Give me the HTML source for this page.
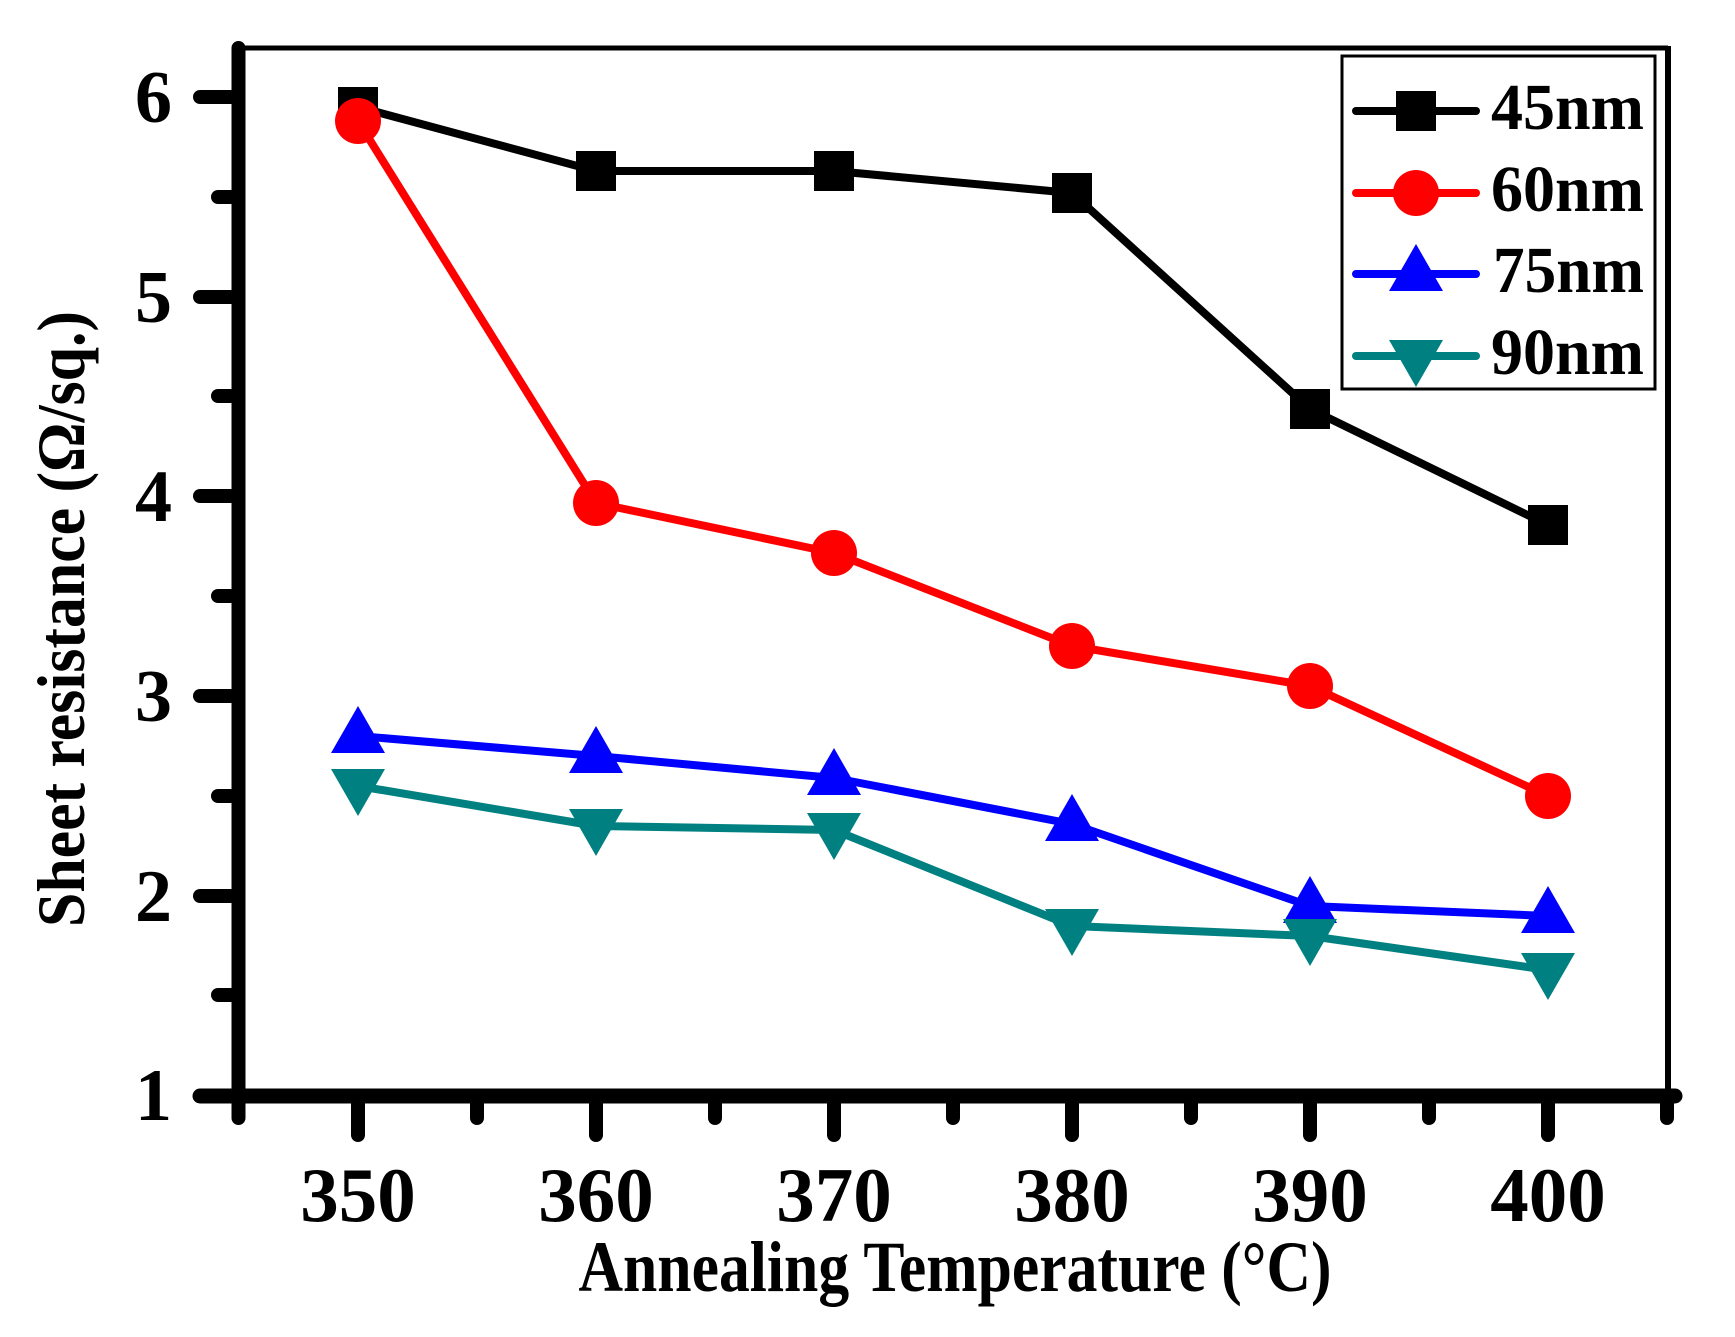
<!DOCTYPE html>
<html><head><style>body{margin:0;background:#fff}svg{display:block}text{font-family:"Liberation Serif",serif;font-weight:bold}</style></head>
<body>
<svg width="1735" height="1337" viewBox="0 0 1735 1337" xmlns="http://www.w3.org/2000/svg">
<rect width="1735" height="1337" fill="#fff"/>
<line x1="238" y1="48" x2="1668" y2="48" stroke="#000" stroke-width="5"/>
<line x1="1668" y1="46" x2="1668" y2="1096" stroke="#000" stroke-width="6"/>
<line x1="238.5" y1="48" x2="238.5" y2="1118" stroke="#000" stroke-width="14" stroke-linecap="round"/>
<line x1="200" y1="1096" x2="1675" y2="1096" stroke="#000" stroke-width="15" stroke-linecap="round"/>
<g stroke="#000" stroke-width="14" stroke-linecap="round">
<line x1="200" y1="97" x2="238" y2="97"/>
<line x1="218" y1="197" x2="238" y2="197"/>
<line x1="200" y1="297" x2="238" y2="297"/>
<line x1="218" y1="396" x2="238" y2="396"/>
<line x1="200" y1="496" x2="238" y2="496"/>
<line x1="218" y1="596" x2="238" y2="596"/>
<line x1="200" y1="696" x2="238" y2="696"/>
<line x1="218" y1="796" x2="238" y2="796"/>
<line x1="200" y1="896" x2="238" y2="896"/>
<line x1="218" y1="995" x2="238" y2="995"/>
<line x1="358" y1="1096" x2="358" y2="1135"/>
<line x1="596" y1="1096" x2="596" y2="1135"/>
<line x1="834" y1="1096" x2="834" y2="1135"/>
<line x1="1072" y1="1096" x2="1072" y2="1135"/>
<line x1="1310" y1="1096" x2="1310" y2="1135"/>
<line x1="1548" y1="1096" x2="1548" y2="1135"/>
<line x1="477" y1="1096" x2="477" y2="1118"/>
<line x1="715" y1="1096" x2="715" y2="1118"/>
<line x1="953" y1="1096" x2="953" y2="1118"/>
<line x1="1191" y1="1096" x2="1191" y2="1118"/>
<line x1="1429" y1="1096" x2="1429" y2="1118"/>
<line x1="1667" y1="1096" x2="1667" y2="1118"/>
</g>
<g font-size="74" text-anchor="end">
<text x="172" y="122">6</text><text x="172" y="322">5</text><text x="172" y="521">4</text>
<text x="172" y="721">3</text><text x="172" y="921">2</text><text x="172" y="1120">1</text>
</g>
<g font-size="77" text-anchor="middle">
<text x="358" y="1221">350</text><text x="596" y="1221">360</text><text x="834" y="1221">370</text>
<text x="1072" y="1221">380</text><text x="1310" y="1221">390</text><text x="1548" y="1221">400</text>
</g>
<text x="955" y="1291" font-size="72" text-anchor="middle" textLength="753" lengthAdjust="spacingAndGlyphs">Annealing Temperature (°C)</text>
<text transform="translate(84,619) rotate(-90)" font-size="68" text-anchor="middle" textLength="616" lengthAdjust="spacingAndGlyphs">Sheet resistance (Ω/sq.)</text>
<polyline fill="none" stroke="#000" stroke-width="8" stroke-linejoin="round" points="358,107 596,171 834,171 1072,193 1310,409 1548,525"/>
<polyline fill="none" stroke="#f00" stroke-width="8" stroke-linejoin="round" points="358,121 596,503 834,553 1072,646 1310,686 1548,796"/>
<polyline fill="none" stroke="#00f" stroke-width="8" stroke-linejoin="round" points="358,736 596,756 834,778 1072,824 1310,906 1548,916"/>
<polyline fill="none" stroke="#008080" stroke-width="8" stroke-linejoin="round" points="358,786 596,826 834,830 1072,926 1310,936 1548,970"/>
<g fill="#000">
<rect x="338" y="87" width="40" height="40"/><rect x="576" y="151" width="40" height="40"/><rect x="814" y="151" width="40" height="40"/>
<rect x="1052" y="173" width="40" height="40"/><rect x="1290" y="389" width="40" height="40"/><rect x="1528" y="505" width="40" height="40"/>
</g>
<g fill="#f00">
<circle cx="358" cy="121" r="23"/><circle cx="596" cy="503" r="23"/><circle cx="834" cy="553" r="23"/>
<circle cx="1072" cy="646" r="23"/><circle cx="1310" cy="686" r="23"/><circle cx="1548" cy="796" r="23"/>
</g>
<g fill="#00f">
<path d="M358,706 l27,47 h-54z"/><path d="M596,726 l27,47 h-54z"/><path d="M834,748 l27,47 h-54z"/>
<path d="M1072,794 l27,47 h-54z"/><path d="M1310,876 l27,47 h-54z"/><path d="M1548,886 l27,47 h-54z"/>
</g>
<g fill="#008080">
<path d="M358,816 l27,-47 h-54z"/><path d="M596,856 l27,-47 h-54z"/><path d="M834,860 l27,-47 h-54z"/>
<path d="M1072,956 l27,-47 h-54z"/><path d="M1310,966 l27,-47 h-54z"/><path d="M1548,1000 l27,-47 h-54z"/>
</g>
<rect x="1342" y="56" width="313" height="333" fill="#fff" stroke="#000" stroke-width="3"/>
<g stroke-width="8" stroke-linecap="round">
<line x1="1356" y1="111" x2="1476" y2="111" stroke="#000"/>
<line x1="1356" y1="193" x2="1476" y2="193" stroke="#f00"/>
<line x1="1356" y1="274" x2="1476" y2="274" stroke="#00f"/>
<line x1="1356" y1="356" x2="1476" y2="356" stroke="#008080"/>
</g>
<rect x="1396" y="91" width="40" height="40" fill="#000"/>
<circle cx="1416" cy="193" r="23" fill="#f00"/>
<path d="M1416,244 l27,47 h-54z" fill="#00f"/>
<path d="M1416,387 l27,-47 h-54z" fill="#008080"/>
<g font-size="66">
<text x="1491" y="129" textLength="153" lengthAdjust="spacingAndGlyphs">45nm</text><text x="1491" y="211" textLength="153" lengthAdjust="spacingAndGlyphs">60nm</text>
<text x="1493" y="292" textLength="151" lengthAdjust="spacingAndGlyphs">75nm</text><text x="1491" y="374" textLength="153" lengthAdjust="spacingAndGlyphs">90nm</text>
</g>
</svg>
</body></html>
